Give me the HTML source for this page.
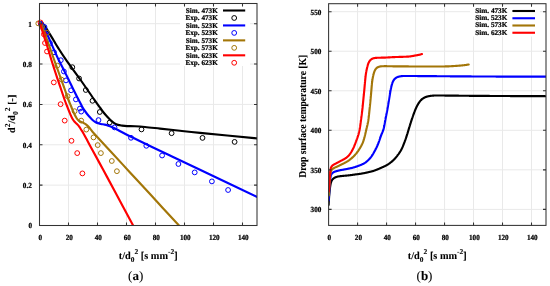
<!DOCTYPE html>
<html><head><meta charset="utf-8"><title>Figure</title>
<style>
html,body{margin:0;padding:0;background:#fff;}
body{width:550px;height:286px;overflow:hidden;}
svg{display:block;filter:blur(0.3px);}
text{text-rendering:geometricPrecision;font-family:"Liberation Serif","Times New Roman",serif;font-weight:bold;fill:#000;}
text.s{stroke:#000;stroke-width:0.22px;}
text.m{stroke:#000;stroke-width:0.08px;}
.g line{stroke:#e9e9e9;stroke-width:1;}
.c circle{fill:none;stroke-width:1;}
</style></head><body>
<svg width="550" height="286" viewBox="0 0 550 286">
<rect width="550" height="286" fill="#fff"/>
<defs>
<clipPath id="cl"><rect x="39.50" y="3.50" width="217.50" height="222.00"/></clipPath>
<clipPath id="cr"><rect x="328.60" y="3.70" width="217.40" height="221.70"/></clipPath>
</defs>
<g class="g"><line x1="68.50" y1="3.50" x2="68.50" y2="225.50"/>
<line x1="97.50" y1="3.50" x2="97.50" y2="225.50"/>
<line x1="126.50" y1="3.50" x2="126.50" y2="225.50"/>
<line x1="155.50" y1="3.50" x2="155.50" y2="225.50"/>
<line x1="184.50" y1="3.50" x2="184.50" y2="225.50"/>
<line x1="213.50" y1="3.50" x2="213.50" y2="225.50"/>
<line x1="242.50" y1="3.50" x2="242.50" y2="225.50"/>
<line x1="39.50" y1="185.14" x2="257.00" y2="185.14"/>
<line x1="39.50" y1="144.77" x2="257.00" y2="144.77"/>
<line x1="39.50" y1="104.41" x2="257.00" y2="104.41"/>
<line x1="39.50" y1="64.05" x2="257.00" y2="64.05"/>
<line x1="39.50" y1="23.68" x2="257.00" y2="23.68"/></g>
<g class="g"><line x1="357.59" y1="3.70" x2="357.59" y2="225.40"/>
<line x1="386.57" y1="3.70" x2="386.57" y2="225.40"/>
<line x1="415.56" y1="3.70" x2="415.56" y2="225.40"/>
<line x1="444.55" y1="3.70" x2="444.55" y2="225.40"/>
<line x1="473.53" y1="3.70" x2="473.53" y2="225.40"/>
<line x1="502.52" y1="3.70" x2="502.52" y2="225.40"/>
<line x1="531.51" y1="3.70" x2="531.51" y2="225.40"/>
<line x1="328.60" y1="209.39" x2="546.00" y2="209.39"/>
<line x1="328.60" y1="169.85" x2="546.00" y2="169.85"/>
<line x1="328.60" y1="130.31" x2="546.00" y2="130.31"/>
<line x1="328.60" y1="90.78" x2="546.00" y2="90.78"/>
<line x1="328.60" y1="51.24" x2="546.00" y2="51.24"/>
<line x1="328.60" y1="11.71" x2="546.00" y2="11.71"/></g>
<path clip-path="url(#cl)" fill="none" stroke-width="2.15" stroke-linejoin="round" stroke-linecap="round" d="M39.50,23.70 C39.83,23.67 40.92,23.47 41.50,23.50 C42.08,23.53 42.50,23.55 43.00,23.90 C43.50,24.25 43.98,24.92 44.50,25.60 C45.02,26.28 45.18,26.53 46.10,28.00 C47.02,29.47 48.68,32.23 50.00,34.40 C51.32,36.57 52.67,38.80 54.00,41.00 C55.33,43.20 56.02,44.50 58.00,47.60 C59.98,50.70 62.13,54.20 65.90,59.60 C69.67,65.00 75.82,73.25 80.60,80.00 C85.38,86.75 91.32,95.43 94.60,100.10 C97.88,104.77 98.73,105.85 100.30,108.00 C101.87,110.15 102.80,111.50 104.00,113.00 C105.20,114.50 106.33,115.73 107.50,117.00 C108.67,118.27 109.83,119.55 111.00,120.60 C112.17,121.65 113.33,122.58 114.50,123.30 C115.67,124.02 116.75,124.52 118.00,124.90 C119.25,125.28 120.50,125.40 122.00,125.60 C123.50,125.80 124.83,125.98 127.00,126.10 C129.17,126.22 132.00,126.15 135.00,126.30 C138.00,126.45 140.83,126.62 145.00,127.00 C149.17,127.38 154.17,127.97 160.00,128.60 C165.83,129.23 173.33,130.08 180.00,130.80 C186.67,131.52 187.20,131.63 200.00,132.90 C212.80,134.17 247.33,137.48 256.80,138.40" stroke="#000000"/>
<g class="c"><circle cx="41.20" cy="24.20" r="2.40" stroke="#000000"/>
<circle cx="72.30" cy="67.20" r="2.40" stroke="#000000"/>
<circle cx="79.10" cy="78.50" r="2.40" stroke="#000000"/>
<circle cx="85.80" cy="90.00" r="2.40" stroke="#000000"/>
<circle cx="92.50" cy="100.80" r="2.40" stroke="#000000"/>
<circle cx="99.80" cy="112.00" r="2.40" stroke="#000000"/>
<circle cx="109.70" cy="122.50" r="2.40" stroke="#000000"/>
<circle cx="141.50" cy="129.40" r="2.40" stroke="#000000"/>
<circle cx="171.60" cy="133.20" r="2.40" stroke="#000000"/>
<circle cx="202.50" cy="137.90" r="2.40" stroke="#000000"/>
<circle cx="234.60" cy="141.90" r="2.40" stroke="#000000"/></g>
<path clip-path="url(#cl)" fill="none" stroke-width="2.15" stroke-linejoin="round" stroke-linecap="round" d="M39.50,23.70 C39.80,23.65 40.75,23.30 41.30,23.40 C41.85,23.50 42.18,23.33 42.80,24.30 C43.42,25.27 44.05,27.05 45.00,29.20 C45.95,31.35 47.15,34.13 48.50,37.20 C49.85,40.27 51.40,43.80 53.10,47.60 C54.80,51.40 56.92,56.27 58.70,60.00 C60.48,63.73 62.12,66.67 63.80,70.00 C65.48,73.33 67.18,76.70 68.80,80.00 C70.42,83.30 71.88,86.55 73.50,89.80 C75.12,93.05 77.00,96.60 78.50,99.50 C80.00,102.40 81.25,105.03 82.50,107.20 C83.75,109.37 84.92,111.00 86.00,112.50 C87.08,114.00 88.00,115.03 89.00,116.20 C90.00,117.37 91.00,118.57 92.00,119.50 C93.00,120.43 94.00,121.17 95.00,121.80 C96.00,122.43 97.00,122.93 98.00,123.30 C99.00,123.67 100.00,123.80 101.00,124.00 C102.00,124.20 103.00,124.32 104.00,124.50 C105.00,124.68 106.00,124.82 107.00,125.10 C108.00,125.38 108.83,125.72 110.00,126.20 C111.17,126.68 112.67,127.37 114.00,128.00 C115.33,128.63 115.17,128.53 118.00,130.00 C120.83,131.47 125.33,133.97 131.00,136.80 C136.67,139.63 145.50,143.88 152.00,147.00 C158.50,150.12 162.00,151.70 170.00,155.50 C178.00,159.30 185.53,162.92 200.00,169.80 C214.47,176.68 247.33,192.30 256.80,196.80" stroke="#0000ff"/>
<g class="c"><circle cx="41.00" cy="24.00" r="2.40" stroke="#0000ff"/>
<circle cx="44.50" cy="27.00" r="2.40" stroke="#0000ff"/>
<circle cx="46.50" cy="32.60" r="2.40" stroke="#0000ff"/>
<circle cx="49.90" cy="43.00" r="2.40" stroke="#0000ff"/>
<circle cx="54.00" cy="52.30" r="2.40" stroke="#0000ff"/>
<circle cx="60.80" cy="60.20" r="2.40" stroke="#0000ff"/>
<circle cx="63.90" cy="71.50" r="2.40" stroke="#0000ff"/>
<circle cx="66.00" cy="80.40" r="2.40" stroke="#0000ff"/>
<circle cx="71.10" cy="90.30" r="2.40" stroke="#0000ff"/>
<circle cx="75.90" cy="99.40" r="2.40" stroke="#0000ff"/>
<circle cx="79.90" cy="108.60" r="2.40" stroke="#0000ff"/>
<circle cx="81.20" cy="111.60" r="2.40" stroke="#0000ff"/>
<circle cx="98.50" cy="120.10" r="2.40" stroke="#0000ff"/>
<circle cx="114.50" cy="127.40" r="2.40" stroke="#0000ff"/>
<circle cx="131.00" cy="137.80" r="2.40" stroke="#0000ff"/>
<circle cx="146.30" cy="145.80" r="2.40" stroke="#0000ff"/>
<circle cx="162.10" cy="155.50" r="2.40" stroke="#0000ff"/>
<circle cx="178.40" cy="164.00" r="2.40" stroke="#0000ff"/>
<circle cx="194.70" cy="172.40" r="2.40" stroke="#0000ff"/>
<circle cx="211.90" cy="181.40" r="2.40" stroke="#0000ff"/>
<circle cx="228.10" cy="190.00" r="2.40" stroke="#0000ff"/></g>
<path clip-path="url(#cl)" fill="none" stroke-width="2.15" stroke-linejoin="round" stroke-linecap="round" d="M39.50,23.70 C39.75,23.85 40.48,23.92 41.00,24.60 C41.52,25.28 42.07,26.60 42.60,27.80 C43.13,29.00 43.68,30.43 44.20,31.80 C44.72,33.17 45.22,34.63 45.70,36.00 C46.18,37.37 46.27,37.67 47.10,40.00 C47.93,42.33 49.52,46.67 50.70,50.00 C51.88,53.33 53.02,56.67 54.20,60.00 C55.38,63.33 56.60,66.67 57.80,70.00 C59.00,73.33 60.20,76.67 61.40,80.00 C62.60,83.33 63.82,86.67 65.00,90.00 C66.18,93.33 67.50,97.33 68.50,100.00 C69.50,102.67 70.17,103.95 71.00,106.00 C71.83,108.05 72.58,110.30 73.50,112.30 C74.42,114.30 75.58,116.58 76.50,118.00 C77.42,119.42 78.17,120.13 79.00,120.80 C79.83,121.47 80.67,121.60 81.50,122.00 C82.33,122.40 83.17,122.73 84.00,123.20 C84.83,123.67 85.67,124.12 86.50,124.80 C87.33,125.48 88.17,126.37 89.00,127.30 C89.83,128.23 90.58,129.28 91.50,130.40 C92.42,131.52 91.42,130.60 94.50,134.00 C97.58,137.40 104.08,144.40 110.00,150.80 C115.92,157.20 123.33,165.18 130.00,172.40 C136.67,179.62 141.83,185.25 150.00,194.10 C158.17,202.95 174.17,220.27 179.00,225.50" stroke="#a37608"/>
<g class="c"><circle cx="38.30" cy="23.40" r="2.40" stroke="#a37608"/>
<circle cx="42.00" cy="27.00" r="2.40" stroke="#a37608"/>
<circle cx="47.00" cy="32.60" r="2.40" stroke="#a37608"/>
<circle cx="57.30" cy="65.60" r="2.40" stroke="#a37608"/>
<circle cx="61.50" cy="79.60" r="2.40" stroke="#a37608"/>
<circle cx="67.60" cy="96.20" r="2.40" stroke="#a37608"/>
<circle cx="74.60" cy="111.20" r="2.40" stroke="#a37608"/>
<circle cx="81.20" cy="120.60" r="2.40" stroke="#a37608"/>
<circle cx="86.30" cy="129.60" r="2.40" stroke="#a37608"/>
<circle cx="93.50" cy="137.40" r="2.40" stroke="#a37608"/>
<circle cx="97.70" cy="145.10" r="2.40" stroke="#a37608"/>
<circle cx="100.90" cy="153.10" r="2.40" stroke="#a37608"/>
<circle cx="111.80" cy="161.00" r="2.40" stroke="#a37608"/>
<circle cx="116.90" cy="171.20" r="2.40" stroke="#a37608"/></g>
<path clip-path="url(#cl)" fill="none" stroke-width="2.15" stroke-linejoin="round" stroke-linecap="round" d="M39.50,23.70 C39.67,24.00 40.05,24.37 40.50,25.50 C40.95,26.63 41.42,28.08 42.20,30.50 C42.98,32.92 44.17,36.75 45.20,40.00 C46.23,43.25 47.37,46.67 48.40,50.00 C49.43,53.33 50.37,56.67 51.40,60.00 C52.43,63.33 53.52,66.67 54.60,70.00 C55.68,73.33 56.78,76.67 57.90,80.00 C59.02,83.33 60.17,86.67 61.30,90.00 C62.43,93.33 63.75,97.33 64.70,100.00 C65.65,102.67 66.25,104.08 67.00,106.00 C67.75,107.92 68.53,109.87 69.20,111.50 C69.87,113.13 70.43,114.55 71.00,115.80 C71.57,117.05 72.00,118.00 72.60,119.00 C73.20,120.00 73.92,121.00 74.60,121.80 C75.28,122.60 75.97,123.05 76.70,123.80 C77.43,124.55 78.28,125.35 79.00,126.30 C79.72,127.25 80.25,128.30 81.00,129.50 C81.75,130.70 82.65,132.05 83.50,133.50 C84.35,134.95 84.62,135.45 86.10,138.20 C87.58,140.95 89.48,144.62 92.40,150.00 C95.32,155.38 99.92,163.70 103.60,170.50 C107.28,177.30 109.60,181.67 114.50,190.80 C119.40,199.93 129.92,219.55 133.00,225.30" stroke="#ff0000"/>
<g class="c"><circle cx="40.50" cy="22.50" r="2.40" stroke="#ff0000"/>
<circle cx="43.90" cy="34.30" r="2.40" stroke="#ff0000"/>
<circle cx="45.00" cy="43.00" r="2.40" stroke="#ff0000"/>
<circle cx="47.00" cy="51.50" r="2.40" stroke="#ff0000"/>
<circle cx="53.80" cy="82.40" r="2.40" stroke="#ff0000"/>
<circle cx="60.60" cy="104.20" r="2.40" stroke="#ff0000"/>
<circle cx="64.70" cy="120.60" r="2.40" stroke="#ff0000"/>
<circle cx="71.50" cy="140.80" r="2.40" stroke="#ff0000"/>
<circle cx="77.20" cy="153.10" r="2.40" stroke="#ff0000"/>
<circle cx="82.40" cy="173.40" r="2.40" stroke="#ff0000"/></g>
<g clip-path="url(#cr)" fill="none" stroke-width="2.15" stroke-linejoin="round" stroke-linecap="round">
<path d="M328.60,205.00L328.62,204.65L328.63,204.30L328.65,203.95L328.67,203.60L328.69,203.25L328.71,202.90L328.72,202.55L328.74,202.20L328.76,201.85L328.78,201.50L328.80,201.15L328.83,200.80L328.85,200.45L328.87,200.10L328.89,199.75L328.91,199.40L328.94,199.05L328.96,198.70L328.99,198.36L329.01,198.01L329.04,197.66L329.06,197.31L329.09,196.96L329.11,196.61L329.14,196.26L329.17,195.91L329.20,195.56L329.22,195.21L329.25,194.86L329.28,194.51L329.31,194.16L329.34,193.82L329.37,193.47L329.41,193.12L329.44,192.77L329.47,192.42L329.51,192.07L329.54,191.72L329.58,191.37L329.61,191.03L329.65,190.68L329.69,190.33L329.73,189.98L329.76,189.63L329.81,189.29L329.85,188.94L329.89,188.59L329.93,188.24L329.98,187.89L330.02,187.55L330.07,187.20L330.12,186.85L330.17,186.51L330.22,186.16L330.27,185.82L330.33,185.47L330.39,185.12L330.45,184.78L330.51,184.44L330.58,184.09L330.65,183.75L330.73,183.41L330.81,183.08L330.90,182.74L331.00,182.41L331.11,182.08L331.23,181.76L331.35,181.44L331.49,181.13L331.64,180.82L331.80,180.52L331.97,180.22L332.15,179.94L332.35,179.67L332.56,179.40L332.78,179.15L333.01,178.90L333.26,178.67L333.51,178.45L333.78,178.24L334.06,178.05L334.34,177.87L334.64,177.70L334.94,177.54L335.25,177.39L335.56,177.26L335.88,177.13L336.20,177.02L336.53,176.91L336.87,176.81L337.20,176.72L337.54,176.64L337.88,176.57L338.22,176.50L338.56,176.44L338.91,176.38L339.25,176.33L339.60,176.28L339.94,176.23L340.29,176.19L340.64,176.15L340.99,176.11L341.34,176.07L341.68,176.03L342.03,176.00L342.38,175.96L342.73,175.93L343.08,175.90L343.43,175.86L343.78,175.83L344.12,175.80L344.47,175.77L344.82,175.73L345.17,175.70L345.52,175.67L345.87,175.64L346.22,175.61L346.57,175.57L346.92,175.54L347.26,175.51L347.61,175.47L347.96,175.44L348.31,175.40L348.66,175.37L349.01,175.33L349.35,175.29L349.70,175.25L350.05,175.20L350.40,175.16L350.74,175.12L351.09,175.07L351.44,175.02L351.78,174.97L352.13,174.93L352.48,174.88L352.83,174.83L353.17,174.78L353.52,174.73L353.87,174.68L354.21,174.63L354.56,174.58L354.91,174.53L355.25,174.48L355.60,174.43L355.95,174.39L356.29,174.34L356.64,174.29L356.99,174.25L357.34,174.20L357.68,174.16L358.03,174.11L358.38,174.06L358.72,174.02L359.07,173.97L359.42,173.92L359.77,173.87L360.11,173.82L360.46,173.77L360.80,173.71L361.15,173.66L361.50,173.60L361.84,173.55L362.19,173.49L362.53,173.43L362.88,173.36L363.22,173.30L363.56,173.23L363.91,173.17L364.25,173.10L364.60,173.03L364.94,172.96L365.28,172.89L365.62,172.82L365.97,172.74L366.31,172.67L366.65,172.60L366.99,172.52L367.34,172.45L367.68,172.37L368.02,172.29L368.36,172.22L368.70,172.14L369.04,172.06L369.39,171.98L369.73,171.90L370.07,171.82L370.41,171.74L370.75,171.66L371.09,171.57L371.43,171.49L371.77,171.40L372.10,171.31L372.44,171.21L372.78,171.11L373.11,171.01L373.45,170.91L373.78,170.80L374.11,170.69L374.44,170.58L374.77,170.46L375.10,170.34L375.43,170.22L375.75,170.10L376.08,169.97L376.41,169.84L376.73,169.71L377.05,169.57L377.38,169.44L377.70,169.30L378.02,169.16L378.34,169.02L378.66,168.89L378.99,168.75L379.31,168.61L379.63,168.47L379.95,168.33L380.27,168.19L380.59,168.05L380.92,167.91L381.24,167.77L381.56,167.63L381.88,167.49L382.20,167.35L382.52,167.21L382.84,167.07L383.16,166.93L383.48,166.78L383.80,166.63L384.11,166.48L384.43,166.33L384.74,166.18L385.06,166.03L385.37,165.87L385.68,165.71L385.99,165.54L386.30,165.38L386.60,165.21L386.91,165.04L387.21,164.86L387.51,164.68L387.81,164.50L388.10,164.31L388.40,164.12L388.69,163.93L388.98,163.73L389.26,163.53L389.55,163.33L389.83,163.12L390.11,162.92L390.39,162.70L390.67,162.49L390.94,162.27L391.21,162.05L391.48,161.83L391.75,161.60L392.01,161.38L392.28,161.14L392.54,160.91L392.80,160.68L393.05,160.44L393.31,160.20L393.56,159.96L393.81,159.71L394.05,159.46L394.30,159.21L394.54,158.96L394.78,158.70L395.02,158.44L395.25,158.18L395.48,157.92L395.71,157.66L395.94,157.39L396.16,157.12L396.39,156.85L396.61,156.58L396.83,156.31L397.04,156.04L397.26,155.76L397.47,155.48L397.68,155.20L397.89,154.92L398.10,154.64L398.31,154.36L398.51,154.07L398.72,153.79L398.92,153.50L399.12,153.21L399.31,152.93L399.51,152.64L399.70,152.34L399.89,152.05L400.08,151.75L400.26,151.46L400.45,151.16L400.63,150.86L400.80,150.56L400.98,150.25L401.14,149.95L401.31,149.64L401.47,149.33L401.63,149.02L401.79,148.71L401.94,148.39L402.09,148.07L402.23,147.76L402.38,147.44L402.52,147.12L402.65,146.79L402.79,146.47L402.93,146.15L403.06,145.83L403.19,145.50L403.32,145.18L403.45,144.85L403.58,144.53L403.71,144.20L403.84,143.87L403.96,143.55L404.09,143.22L404.22,142.89L404.34,142.57L404.46,142.24L404.59,141.91L404.71,141.58L404.83,141.25L404.95,140.92L405.07,140.60L405.19,140.27L405.31,139.94L405.43,139.61L405.55,139.28L405.66,138.95L405.78,138.62L405.89,138.28L406.01,137.95L406.12,137.62L406.23,137.29L406.34,136.96L406.45,136.63L406.56,136.29L406.67,135.96L406.78,135.63L406.89,135.29L407.00,134.96L407.10,134.63L407.21,134.29L407.31,133.96L407.41,133.62L407.52,133.29L407.62,132.95L407.72,132.62L407.82,132.28L407.92,131.95L408.02,131.61L408.12,131.28L408.22,130.94L408.32,130.60L408.42,130.27L408.52,129.93L408.62,129.60L408.72,129.26L408.82,128.93L408.92,128.59L409.02,128.25L409.12,127.92L409.22,127.58L409.32,127.25L409.42,126.91L409.53,126.58L409.63,126.24L409.73,125.91L409.83,125.57L409.94,125.24L410.04,124.90L410.14,124.57L410.25,124.23L410.35,123.90L410.46,123.56L410.56,123.23L410.67,122.90L410.77,122.56L410.88,122.23L410.99,121.90L411.10,121.56L411.20,121.23L411.31,120.90L411.42,120.56L411.53,120.23L411.64,119.90L411.75,119.56L411.86,119.23L411.97,118.90L412.08,118.57L412.19,118.23L412.30,117.90L412.42,117.57L412.53,117.24L412.64,116.91L412.76,116.58L412.87,116.25L412.99,115.92L413.10,115.58L413.22,115.25L413.34,114.92L413.46,114.60L413.58,114.27L413.70,113.94L413.82,113.61L413.94,113.28L414.06,112.95L414.19,112.62L414.31,112.30L414.44,111.97L414.56,111.64L414.69,111.32L414.82,110.99L414.95,110.67L415.08,110.34L415.21,110.02L415.35,109.69L415.48,109.37L415.62,109.05L415.76,108.73L415.90,108.40L416.04,108.08L416.18,107.77L416.33,107.45L416.48,107.13L416.63,106.82L416.78,106.50L416.94,106.19L417.10,105.88L417.26,105.57L417.43,105.26L417.60,104.95L417.77,104.65L417.94,104.35L418.12,104.05L418.30,103.75L418.49,103.45L418.68,103.16L418.87,102.86L419.06,102.57L419.26,102.28L419.46,102.00L419.67,101.72L419.88,101.44L420.09,101.17L420.31,100.90L420.54,100.63L420.77,100.38L421.01,100.12L421.25,99.88L421.50,99.64L421.76,99.41L422.02,99.18L422.29,98.97L422.56,98.76L422.85,98.56L423.13,98.36L423.42,98.18L423.72,98.00L424.02,97.83L424.33,97.67L424.64,97.51L424.95,97.36L425.27,97.23L425.59,97.09L425.92,96.97L426.24,96.85L426.57,96.75L426.91,96.64L427.24,96.55L427.58,96.46L427.92,96.38L428.26,96.30L428.60,96.23L428.94,96.16L429.28,96.10L429.63,96.04L429.97,95.98L430.31,95.93L430.66,95.88L431.00,95.83L431.35,95.79L431.69,95.75L432.04,95.71L432.38,95.68L432.73,95.64L433.07,95.62L433.42,95.59L433.77,95.57L434.11,95.55L434.46,95.54L434.81,95.53L435.16,95.52L435.50,95.51L435.85,95.51L436.20,95.50L436.55,95.50L436.90,95.50L437.25,95.50L437.60,95.50L437.95,95.50L438.30,95.50L438.65,95.50L439.00,95.51L439.35,95.51L439.70,95.51L440.06,95.51L440.41,95.51L440.76,95.52L441.11,95.52L441.46,95.52L441.81,95.52L442.16,95.53L442.51,95.53L442.86,95.53L443.21,95.54L443.56,95.54L443.91,95.54L444.26,95.54L444.61,95.55L444.96,95.55L445.31,95.55L445.66,95.56L446.01,95.56L446.36,95.56L446.71,95.57L447.06,95.57L447.41,95.57L447.76,95.58L448.11,95.58L448.46,95.59L448.81,95.59L449.16,95.59L449.51,95.60L449.86,95.60L450.21,95.60L450.56,95.61L450.91,95.61L451.26,95.61L451.62,95.62L451.97,95.62L452.32,95.63L452.67,95.63L453.02,95.63L453.37,95.64L453.72,95.64L454.07,95.64L454.42,95.65L454.77,95.65L455.12,95.66L455.47,95.66L455.82,95.66L456.17,95.67L456.52,95.67L456.87,95.67L457.22,95.68L457.57,95.68L457.92,95.69L458.27,95.69L458.62,95.69L458.97,95.70L459.32,95.70L459.67,95.70L460.02,95.71L460.37,95.71L460.72,95.71L461.07,95.72L461.42,95.72L461.77,95.73L462.12,95.73L462.47,95.73L462.82,95.74L463.18,95.74L463.53,95.74L463.88,95.75L464.23,95.75L464.58,95.75L464.93,95.76L465.28,95.76L465.63,95.76L465.98,95.77L466.33,95.77L466.68,95.77L467.03,95.78L467.38,95.78L467.73,95.78L468.08,95.79L468.43,95.79L468.78,95.79L469.13,95.80L469.48,95.80L469.83,95.80L470.18,95.81L470.53,95.81L470.88,95.81L471.23,95.82L471.58,95.82L471.93,95.82L472.28,95.83L472.63,95.83L472.98,95.83L473.33,95.84L473.68,95.84L474.03,95.84L474.38,95.84L474.74,95.85L475.09,95.85L475.44,95.85L475.79,95.86L476.14,95.86L476.49,95.86L476.84,95.86L477.19,95.87L477.54,95.87L477.89,95.87L478.24,95.87L478.59,95.88L478.94,95.88L479.29,95.88L479.64,95.88L479.99,95.89L480.34,95.89L480.69,95.89L481.04,95.89L481.39,95.90L481.74,95.90L482.09,95.90L482.44,95.90L482.79,95.91L483.14,95.91L483.49,95.91L483.84,95.91L484.19,95.91L484.54,95.92L484.89,95.92L485.24,95.92L485.59,95.92L485.95,95.93L486.30,95.93L486.65,95.93L487.00,95.93L487.35,95.93L487.70,95.94L488.05,95.94L488.40,95.94L488.75,95.94L489.10,95.94L489.45,95.94L489.80,95.95L490.15,95.95L490.50,95.95L490.85,95.95L491.20,95.95L491.55,95.96L491.90,95.96L492.25,95.96L492.60,95.96L492.95,95.96L493.30,95.97L493.65,95.97L494.00,95.97L494.35,95.97L494.70,95.97L495.05,95.97L495.40,95.98L495.75,95.98L496.10,95.98L496.45,95.98L496.81,95.98L497.16,95.98L497.51,95.99L497.86,95.99L498.21,95.99L498.56,95.99L498.91,95.99L499.26,96.00L499.61,96.00L499.96,96.00L500.31,96.00L500.66,96.00L501.01,96.00L501.36,96.01L501.71,96.01L502.06,96.01L502.41,96.01L502.76,96.01L503.11,96.01L503.46,96.02L503.81,96.02L504.16,96.02L504.51,96.02L504.86,96.02L505.21,96.02L505.56,96.03L505.91,96.03L506.26,96.03L506.61,96.03L506.96,96.03L507.31,96.03L507.66,96.03L508.02,96.04L508.37,96.04L508.72,96.04L509.07,96.04L509.42,96.04L509.77,96.04L510.12,96.05L510.47,96.05L510.82,96.05L511.17,96.05L511.52,96.05L511.87,96.05L512.22,96.06L512.57,96.06L512.92,96.06L513.27,96.06L513.62,96.06L513.97,96.06L514.32,96.06L514.67,96.07L515.02,96.07L515.37,96.07L515.72,96.07L516.07,96.07L516.42,96.07L516.77,96.08L517.12,96.08L517.47,96.08L517.82,96.08L518.17,96.08L518.52,96.08L518.88,96.08L519.23,96.09L519.58,96.09L519.93,96.09L520.28,96.09L520.63,96.09L520.98,96.09L521.33,96.09L521.68,96.10L522.03,96.10L522.38,96.10L522.73,96.10L523.08,96.10L523.43,96.10L523.78,96.11L524.13,96.11L524.48,96.11L524.83,96.11L525.18,96.11L525.53,96.11L525.88,96.11L526.23,96.12L526.58,96.12L526.93,96.12L527.28,96.12L527.63,96.12L527.98,96.12L528.33,96.12L528.68,96.13L529.03,96.13L529.38,96.13L529.74,96.13L530.09,96.13L530.44,96.13L530.79,96.13L531.14,96.14L531.49,96.14L531.84,96.14L532.19,96.14L532.54,96.14L532.89,96.14L533.24,96.14L533.59,96.15L533.94,96.15L534.29,96.15L534.64,96.15L534.99,96.15L535.34,96.15L535.69,96.15L536.04,96.16L536.39,96.16L536.74,96.16L537.09,96.16L537.44,96.16L537.79,96.16L538.14,96.17L538.49,96.17L538.84,96.17L539.19,96.17L539.54,96.17L539.89,96.17L540.24,96.17L540.59,96.18L540.95,96.18L541.30,96.18L541.65,96.18L542.00,96.18L542.35,96.18L542.70,96.18L543.05,96.19L543.40,96.19L543.75,96.19L544.10,96.19L544.45,96.19L544.80,96.19L545.15,96.20L545.50,96.20L545.85,96.20L546.20,96.20" stroke="#000000"/>
<path d="M328.70,200.50L328.72,200.15L328.74,199.80L328.76,199.45L328.78,199.10L328.81,198.75L328.83,198.40L328.85,198.05L328.87,197.70L328.89,197.35L328.91,197.01L328.93,196.66L328.96,196.31L328.98,195.96L329.00,195.61L329.02,195.26L329.04,194.91L329.07,194.56L329.09,194.21L329.11,193.86L329.13,193.51L329.15,193.16L329.18,192.81L329.20,192.46L329.22,192.11L329.24,191.76L329.27,191.41L329.29,191.07L329.31,190.72L329.33,190.37L329.36,190.02L329.38,189.67L329.40,189.32L329.42,188.97L329.45,188.62L329.47,188.27L329.50,187.92L329.52,187.57L329.54,187.22L329.57,186.87L329.59,186.52L329.62,186.18L329.64,185.83L329.67,185.48L329.70,185.13L329.72,184.78L329.75,184.43L329.78,184.08L329.81,183.73L329.83,183.38L329.86,183.03L329.89,182.69L329.92,182.34L329.95,181.99L329.99,181.64L330.02,181.29L330.05,180.94L330.09,180.59L330.12,180.25L330.16,179.90L330.19,179.55L330.23,179.20L330.27,178.85L330.31,178.51L330.36,178.16L330.40,177.81L330.46,177.47L330.51,177.13L330.57,176.79L330.64,176.45L330.72,176.12L330.80,175.79L330.90,175.46L331.01,175.15L331.14,174.84L331.28,174.54L331.43,174.25L331.61,173.98L331.80,173.71L332.00,173.46L332.23,173.22L332.46,173.00L332.72,172.79L332.99,172.60L333.26,172.41L333.55,172.25L333.85,172.09L334.16,171.94L334.47,171.81L334.79,171.68L335.12,171.56L335.44,171.45L335.78,171.35L336.11,171.25L336.44,171.15L336.78,171.05L337.12,170.96L337.45,170.87L337.79,170.78L338.13,170.70L338.47,170.61L338.81,170.53L339.15,170.45L339.49,170.37L339.83,170.29L340.17,170.22L340.52,170.15L340.86,170.08L341.20,170.01L341.55,169.95L341.89,169.88L342.23,169.82L342.58,169.75L342.92,169.69L343.27,169.63L343.61,169.57L343.96,169.51L344.30,169.45L344.65,169.38L344.99,169.32L345.33,169.26L345.68,169.19L346.02,169.13L346.37,169.07L346.71,169.00L347.06,168.94L347.40,168.87L347.74,168.81L348.09,168.74L348.43,168.67L348.77,168.61L349.12,168.54L349.46,168.47L349.80,168.40L350.15,168.32L350.49,168.25L350.83,168.17L351.17,168.10L351.51,168.02L351.85,167.94L352.19,167.85L352.53,167.76L352.87,167.67L353.20,167.58L353.54,167.49L353.88,167.39L354.21,167.29L354.55,167.18L354.88,167.08L355.21,166.97L355.54,166.86L355.88,166.75L356.21,166.64L356.54,166.52L356.87,166.41L357.20,166.29L357.53,166.17L357.86,166.05L358.19,165.93L358.52,165.81L358.84,165.69L359.17,165.57L359.50,165.45L359.83,165.33L360.15,165.20L360.48,165.07L360.80,164.94L361.13,164.81L361.45,164.67L361.77,164.53L362.09,164.39L362.40,164.24L362.72,164.09L363.03,163.94L363.34,163.78L363.65,163.61L363.95,163.44L364.25,163.27L364.55,163.08L364.84,162.90L365.13,162.71L365.42,162.51L365.71,162.31L365.99,162.10L366.26,161.89L366.54,161.67L366.81,161.45L367.07,161.23L367.34,161.00L367.60,160.77L367.86,160.53L368.11,160.29L368.36,160.05L368.61,159.81L368.85,159.56L369.10,159.31L369.34,159.05L369.57,158.79L369.80,158.53L370.03,158.27L370.26,158.00L370.48,157.73L370.69,157.46L370.91,157.18L371.11,156.90L371.32,156.62L371.52,156.33L371.72,156.05L371.91,155.76L372.11,155.46L372.29,155.17L372.48,154.87L372.66,154.58L372.85,154.28L373.03,153.98L373.20,153.68L373.38,153.37L373.56,153.07L373.73,152.77L373.90,152.46L374.07,152.16L374.24,151.85L374.41,151.55L374.58,151.24L374.75,150.93L374.92,150.62L375.08,150.32L375.25,150.01L375.41,149.70L375.58,149.39L375.74,149.08L375.90,148.77L376.06,148.46L376.22,148.14L376.37,147.83L376.53,147.52L376.68,147.20L376.83,146.88L376.97,146.57L377.12,146.25L377.26,145.93L377.40,145.61L377.54,145.29L377.67,144.96L377.80,144.64L377.93,144.31L378.06,143.99L378.18,143.66L378.31,143.33L378.43,143.01L378.55,142.68L378.67,142.35L378.79,142.02L378.91,141.69L379.02,141.36L379.14,141.03L379.25,140.70L379.37,140.37L379.48,140.04L379.60,139.71L379.71,139.38L379.83,139.05L379.94,138.72L380.06,138.38L380.17,138.05L380.29,137.72L380.40,137.39L380.52,137.06L380.64,136.73L380.75,136.40L380.87,136.07L380.99,135.75L381.11,135.42L381.24,135.09L381.37,134.76L381.49,134.44L381.62,134.12L381.76,133.79L381.89,133.47L382.03,133.15L382.16,132.83L382.30,132.50L382.44,132.18L382.57,131.86L382.70,131.54L382.83,131.21L382.95,130.89L383.07,130.56L383.19,130.23L383.30,129.90L383.40,129.57L383.50,129.23L383.59,128.90L383.68,128.56L383.77,128.22L383.84,127.88L383.92,127.54L383.99,127.20L384.06,126.86L384.13,126.51L384.20,126.17L384.27,125.83L384.33,125.48L384.39,125.14L384.46,124.80L384.52,124.45L384.58,124.11L384.65,123.76L384.71,123.42L384.77,123.07L384.83,122.73L384.90,122.38L384.96,122.04L385.02,121.70L385.09,121.35L385.15,121.01L385.21,120.66L385.27,120.32L385.34,119.97L385.40,119.63L385.47,119.29L385.53,118.94L385.60,118.60L385.66,118.25L385.73,117.91L385.80,117.57L385.86,117.22L385.93,116.88L386.00,116.54L386.07,116.19L386.14,115.85L386.21,115.51L386.27,115.16L386.34,114.82L386.41,114.48L386.48,114.13L386.55,113.79L386.62,113.45L386.69,113.10L386.76,112.76L386.83,112.42L386.89,112.07L386.96,111.73L387.03,111.39L387.09,111.04L387.16,110.70L387.22,110.35L387.28,110.01L387.35,109.67L387.41,109.32L387.47,108.98L387.53,108.63L387.59,108.29L387.65,107.94L387.71,107.60L387.77,107.25L387.83,106.91L387.89,106.56L387.95,106.22L388.00,105.87L388.06,105.53L388.12,105.18L388.17,104.83L388.23,104.49L388.29,104.14L388.34,103.80L388.40,103.45L388.46,103.11L388.51,102.76L388.57,102.42L388.63,102.07L388.68,101.72L388.74,101.38L388.80,101.03L388.85,100.69L388.91,100.34L388.97,100.00L389.03,99.65L389.08,99.31L389.14,98.96L389.20,98.62L389.26,98.27L389.31,97.93L389.37,97.58L389.43,97.23L389.48,96.89L389.54,96.54L389.60,96.20L389.65,95.85L389.71,95.51L389.77,95.16L389.82,94.82L389.88,94.47L389.93,94.12L389.99,93.78L390.04,93.43L390.10,93.09L390.15,92.74L390.21,92.40L390.27,92.05L390.32,91.71L390.38,91.36L390.44,91.02L390.50,90.67L390.57,90.33L390.63,89.98L390.70,89.64L390.76,89.30L390.83,88.95L390.90,88.61L390.98,88.27L391.05,87.92L391.13,87.58L391.20,87.24L391.28,86.90L391.36,86.56L391.44,86.22L391.53,85.88L391.62,85.54L391.71,85.20L391.80,84.87L391.89,84.53L391.99,84.19L392.09,83.86L392.20,83.53L392.30,83.20L392.42,82.87L392.54,82.54L392.66,82.22L392.80,81.90L392.94,81.58L393.08,81.27L393.24,80.96L393.40,80.66L393.58,80.37L393.77,80.08L393.96,79.80L394.17,79.53L394.39,79.27L394.62,79.02L394.86,78.78L395.11,78.55L395.37,78.34L395.64,78.13L395.92,77.93L396.20,77.75L396.50,77.57L396.80,77.41L397.10,77.26L397.42,77.12L397.73,76.99L398.05,76.88L398.37,76.77L398.70,76.67L399.02,76.58L399.34,76.51L399.65,76.44L399.97,76.37L400.27,76.32L400.56,76.27L400.85,76.23L401.12,76.19L401.39,76.16L401.64,76.13L401.89,76.11L402.13,76.09L402.37,76.07L402.61,76.05L402.86,76.04L403.11,76.03L403.37,76.02L403.64,76.01L403.93,76.00L404.22,76.00L404.53,75.99L404.84,75.99L405.17,75.99L405.50,75.99L405.83,75.99L406.18,75.99L406.52,75.99L406.87,75.99L407.21,75.99L407.56,75.99L407.91,75.99L408.26,75.99L408.61,75.99L408.96,76.00L409.31,76.00L409.66,76.00L410.01,76.00L410.36,76.00L410.71,76.00L411.06,76.01L411.41,76.01L411.76,76.01L412.11,76.01L412.46,76.01L412.81,76.02L413.16,76.02L413.51,76.02L413.86,76.02L414.21,76.03L414.56,76.03L414.91,76.03L415.26,76.03L415.61,76.03L415.96,76.04L416.31,76.04L416.66,76.04L417.01,76.04L417.36,76.05L417.71,76.05L418.06,76.05L418.41,76.05L418.76,76.06L419.11,76.06L419.46,76.06L419.81,76.06L420.16,76.07L420.51,76.07L420.86,76.07L421.21,76.07L421.56,76.08L421.91,76.08L422.26,76.08L422.61,76.08L422.96,76.09L423.31,76.09L423.66,76.09L424.01,76.10L424.36,76.10L424.71,76.10L425.07,76.10L425.42,76.11L425.77,76.11L426.12,76.11L426.47,76.11L426.82,76.12L427.17,76.12L427.52,76.12L427.87,76.12L428.22,76.13L428.57,76.13L428.92,76.13L429.27,76.14L429.62,76.14L429.97,76.14L430.32,76.14L430.67,76.15L431.02,76.15L431.37,76.15L431.72,76.15L432.07,76.16L432.42,76.16L432.77,76.16L433.12,76.17L433.47,76.17L433.82,76.17L434.17,76.17L434.52,76.18L434.87,76.18L435.22,76.18L435.57,76.18L435.92,76.19L436.27,76.19L436.62,76.19L436.97,76.20L437.32,76.20L437.67,76.20L438.02,76.20L438.37,76.21L438.72,76.21L439.07,76.21L439.42,76.21L439.77,76.22L440.12,76.22L440.47,76.22L440.82,76.23L441.17,76.23L441.52,76.23L441.87,76.23L442.22,76.24L442.57,76.24L442.92,76.24L443.27,76.24L443.62,76.25L443.97,76.25L444.32,76.25L444.67,76.26L445.02,76.26L445.37,76.26L445.72,76.26L446.07,76.27L446.42,76.27L446.77,76.27L447.12,76.27L447.47,76.28L447.82,76.28L448.17,76.28L448.52,76.28L448.87,76.29L449.22,76.29L449.57,76.29L449.92,76.30L450.27,76.30L450.62,76.30L450.97,76.30L451.32,76.31L451.67,76.31L452.02,76.31L452.37,76.31L452.72,76.32L453.07,76.32L453.42,76.32L453.77,76.32L454.12,76.33L454.47,76.33L454.82,76.33L455.17,76.33L455.52,76.34L455.87,76.34L456.22,76.34L456.57,76.34L456.92,76.35L457.27,76.35L457.62,76.35L457.97,76.35L458.32,76.36L458.67,76.36L459.02,76.36L459.37,76.36L459.72,76.37L460.07,76.37L460.42,76.37L460.77,76.37L461.12,76.38L461.47,76.38L461.83,76.38L462.18,76.38L462.53,76.39L462.88,76.39L463.23,76.39L463.58,76.39L463.93,76.40L464.28,76.40L464.63,76.40L464.98,76.40L465.33,76.41L465.68,76.41L466.03,76.41L466.38,76.41L466.73,76.41L467.08,76.42L467.43,76.42L467.78,76.42L468.13,76.42L468.48,76.43L468.83,76.43L469.18,76.43L469.53,76.43L469.88,76.43L470.23,76.44L470.58,76.44L470.93,76.44L471.28,76.44L471.63,76.45L471.98,76.45L472.33,76.45L472.68,76.45L473.03,76.45L473.38,76.46L473.73,76.46L474.08,76.46L474.43,76.46L474.78,76.46L475.13,76.47L475.48,76.47L475.83,76.47L476.18,76.47L476.53,76.47L476.88,76.48L477.23,76.48L477.58,76.48L477.93,76.48L478.28,76.48L478.63,76.48L478.98,76.49L479.33,76.49L479.68,76.49L480.03,76.49L480.38,76.49L480.73,76.49L481.08,76.50L481.43,76.50L481.78,76.50L482.13,76.50L482.48,76.50L482.83,76.50L483.18,76.51L483.53,76.51L483.88,76.51L484.23,76.51L484.58,76.51L484.93,76.51L485.28,76.51L485.63,76.51L485.98,76.52L486.33,76.52L486.68,76.52L487.03,76.52L487.38,76.52L487.73,76.52L488.08,76.52L488.43,76.52L488.78,76.53L489.13,76.53L489.48,76.53L489.83,76.53L490.18,76.53L490.53,76.53L490.88,76.53L491.23,76.53L491.58,76.53L491.93,76.54L492.28,76.54L492.63,76.54L492.98,76.54L493.33,76.54L493.68,76.54L494.03,76.54L494.38,76.54L494.73,76.54L495.08,76.54L495.43,76.54L495.78,76.55L496.13,76.55L496.49,76.55L496.84,76.55L497.19,76.55L497.54,76.55L497.89,76.55L498.24,76.55L498.59,76.55L498.94,76.55L499.29,76.55L499.64,76.55L499.99,76.56L500.34,76.56L500.69,76.56L501.04,76.56L501.39,76.56L501.74,76.56L502.09,76.56L502.44,76.56L502.79,76.56L503.14,76.56L503.49,76.56L503.84,76.56L504.19,76.56L504.54,76.56L504.89,76.56L505.24,76.56L505.59,76.57L505.94,76.57L506.29,76.57L506.64,76.57L506.99,76.57L507.34,76.57L507.69,76.57L508.04,76.57L508.39,76.57L508.74,76.57L509.09,76.57L509.44,76.57L509.79,76.57L510.14,76.57L510.49,76.57L510.84,76.57L511.19,76.57L511.54,76.57L511.89,76.57L512.24,76.57L512.59,76.58L512.94,76.58L513.29,76.58L513.64,76.58L513.99,76.58L514.34,76.58L514.69,76.58L515.04,76.58L515.39,76.58L515.74,76.58L516.09,76.58L516.44,76.58L516.79,76.58L517.14,76.58L517.49,76.58L517.84,76.58L518.19,76.58L518.54,76.58L518.89,76.58L519.24,76.58L519.59,76.58L519.94,76.58L520.29,76.58L520.64,76.58L520.99,76.58L521.34,76.58L521.69,76.58L522.04,76.58L522.39,76.58L522.74,76.58L523.09,76.58L523.44,76.58L523.79,76.59L524.14,76.59L524.49,76.59L524.84,76.59L525.19,76.59L525.54,76.59L525.89,76.59L526.24,76.59L526.59,76.59L526.94,76.59L527.29,76.59L527.64,76.59L527.99,76.59L528.34,76.59L528.69,76.59L529.04,76.59L529.39,76.59L529.75,76.59L530.10,76.59L530.45,76.59L530.80,76.59L531.15,76.59L531.50,76.59L531.85,76.59L532.20,76.59L532.55,76.59L532.90,76.59L533.25,76.59L533.60,76.59L533.95,76.59L534.30,76.59L534.65,76.59L535.00,76.59L535.35,76.59L535.70,76.59L536.05,76.59L536.40,76.59L536.75,76.59L537.10,76.59L537.45,76.59L537.80,76.59L538.15,76.59L538.50,76.59L538.85,76.59L539.20,76.59L539.55,76.59L539.90,76.59L540.25,76.59L540.60,76.59L540.95,76.59L541.30,76.60L541.65,76.60L542.00,76.60L542.35,76.60L542.70,76.60L543.05,76.60L543.40,76.60L543.75,76.60L544.10,76.60L544.45,76.60L544.80,76.60L545.15,76.60L545.50,76.60L545.85,76.60L546.20,76.60" stroke="#0000ff"/>
<path d="M328.80,195.50L328.82,195.15L328.84,194.80L328.86,194.45L328.88,194.10L328.91,193.75L328.93,193.40L328.95,193.05L328.97,192.70L328.99,192.35L329.01,192.00L329.03,191.65L329.06,191.30L329.08,190.95L329.10,190.60L329.12,190.25L329.14,189.90L329.17,189.55L329.19,189.20L329.21,188.85L329.23,188.50L329.25,188.15L329.28,187.80L329.30,187.46L329.32,187.11L329.34,186.76L329.36,186.41L329.39,186.06L329.41,185.71L329.43,185.36L329.45,185.01L329.48,184.66L329.50,184.31L329.52,183.96L329.55,183.61L329.57,183.26L329.59,182.91L329.62,182.56L329.64,182.21L329.67,181.86L329.69,181.51L329.72,181.16L329.74,180.81L329.77,180.46L329.80,180.11L329.82,179.76L329.85,179.41L329.88,179.06L329.90,178.71L329.93,178.37L329.96,178.02L329.99,177.67L330.02,177.32L330.05,176.97L330.08,176.62L330.11,176.27L330.14,175.92L330.17,175.57L330.21,175.22L330.25,174.88L330.28,174.53L330.33,174.18L330.37,173.84L330.42,173.49L330.48,173.15L330.54,172.81L330.60,172.47L330.68,172.14L330.76,171.81L330.86,171.48L330.97,171.17L331.09,170.86L331.23,170.56L331.39,170.28L331.56,170.01L331.75,169.74L331.96,169.50L332.19,169.26L332.43,169.04L332.68,168.83L332.95,168.64L333.23,168.45L333.52,168.28L333.82,168.11L334.12,167.95L334.43,167.80L334.74,167.65L335.06,167.50L335.38,167.36L335.69,167.22L336.01,167.08L336.33,166.93L336.65,166.79L336.97,166.65L337.29,166.51L337.61,166.36L337.92,166.21L338.24,166.06L338.55,165.91L338.86,165.76L339.18,165.60L339.49,165.45L339.80,165.29L340.11,165.14L340.42,164.98L340.74,164.83L341.05,164.67L341.37,164.52L341.68,164.37L342.00,164.22L342.31,164.07L342.63,163.92L342.94,163.77L343.26,163.62L343.57,163.46L343.89,163.31L344.20,163.15L344.51,162.99L344.82,162.82L345.13,162.66L345.44,162.49L345.74,162.32L346.05,162.15L346.35,161.97L346.65,161.80L346.95,161.62L347.25,161.43L347.55,161.25L347.84,161.06L348.13,160.87L348.42,160.67L348.71,160.48L349.00,160.28L349.28,160.07L349.57,159.87L349.85,159.66L350.12,159.44L350.40,159.23L350.67,159.01L350.94,158.79L351.21,158.56L351.48,158.33L351.74,158.10L352.00,157.87L352.26,157.64L352.52,157.40L352.77,157.16L353.02,156.92L353.27,156.67L353.52,156.42L353.77,156.18L354.01,155.93L354.26,155.67L354.50,155.42L354.74,155.17L354.98,154.91L355.21,154.65L355.45,154.39L355.68,154.13L355.91,153.86L356.14,153.60L356.36,153.33L356.58,153.06L356.80,152.79L357.02,152.51L357.23,152.24L357.44,151.96L357.65,151.67L357.85,151.39L358.05,151.10L358.25,150.82L358.45,150.52L358.64,150.23L358.83,149.94L359.01,149.64L359.20,149.34L359.38,149.05L359.56,148.75L359.74,148.45L359.92,148.14L360.10,147.84L360.28,147.54L360.45,147.24L360.62,146.93L360.80,146.63L360.97,146.32L361.14,146.02L361.31,145.71L361.47,145.40L361.63,145.09L361.79,144.78L361.95,144.47L362.10,144.15L362.25,143.84L362.40,143.52L362.54,143.20L362.67,142.88L362.81,142.55L362.94,142.23L363.06,141.90L363.18,141.57L363.30,141.24L363.41,140.91L363.52,140.58L363.63,140.25L363.73,139.91L363.83,139.58L363.93,139.24L364.03,138.91L364.12,138.57L364.22,138.23L364.31,137.89L364.40,137.56L364.49,137.22L364.58,136.88L364.67,136.54L364.76,136.20L364.84,135.86L364.93,135.52L365.01,135.18L365.09,134.84L365.18,134.50L365.26,134.16L365.34,133.82L365.42,133.47L365.49,133.13L365.57,132.79L365.65,132.45L365.73,132.11L365.81,131.77L365.88,131.42L365.96,131.08L366.04,130.74L366.12,130.40L366.20,130.06L366.28,129.72L366.36,129.38L366.44,129.04L366.52,128.69L366.60,128.35L366.68,128.01L366.76,127.67L366.85,127.33L366.93,126.99L367.01,126.65L367.09,126.31L367.17,125.97L367.25,125.63L367.33,125.28L367.41,124.94L367.48,124.60L367.56,124.26L367.63,123.92L367.71,123.57L367.78,123.23L367.85,122.89L367.92,122.55L367.99,122.20L368.05,121.86L368.12,121.51L368.18,121.17L368.24,120.82L368.29,120.48L368.35,120.13L368.40,119.78L368.45,119.44L368.50,119.09L368.54,118.74L368.59,118.40L368.63,118.05L368.67,117.70L368.71,117.35L368.76,117.01L368.80,116.66L368.84,116.31L368.87,115.96L368.91,115.61L368.95,115.26L368.99,114.92L369.02,114.57L369.06,114.22L369.10,113.87L369.13,113.52L369.17,113.17L369.21,112.82L369.24,112.48L369.28,112.13L369.32,111.78L369.35,111.43L369.39,111.08L369.42,110.73L369.46,110.38L369.50,110.04L369.53,109.69L369.57,109.34L369.60,108.99L369.64,108.64L369.68,108.29L369.71,107.94L369.75,107.60L369.78,107.25L369.82,106.90L369.85,106.55L369.89,106.20L369.92,105.85L369.96,105.50L370.00,105.15L370.03,104.81L370.06,104.46L370.10,104.11L370.13,103.76L370.17,103.41L370.20,103.06L370.24,102.71L370.27,102.36L370.30,102.02L370.34,101.67L370.37,101.32L370.40,100.97L370.44,100.62L370.47,100.27L370.50,99.92L370.54,99.57L370.57,99.22L370.60,98.88L370.63,98.53L370.67,98.18L370.70,97.83L370.73,97.48L370.76,97.13L370.79,96.78L370.82,96.43L370.85,96.08L370.88,95.73L370.92,95.39L370.95,95.04L370.98,94.69L371.01,94.34L371.04,93.99L371.07,93.64L371.10,93.29L371.13,92.94L371.16,92.59L371.19,92.24L371.22,91.89L371.25,91.55L371.28,91.20L371.31,90.85L371.34,90.50L371.37,90.15L371.40,89.80L371.43,89.45L371.46,89.10L371.49,88.75L371.52,88.40L371.55,88.05L371.58,87.70L371.60,87.35L371.63,87.01L371.66,86.66L371.69,86.31L371.72,85.96L371.76,85.61L371.79,85.26L371.82,84.91L371.85,84.56L371.89,84.21L371.92,83.86L371.96,83.52L371.99,83.17L372.03,82.82L372.07,82.47L372.11,82.12L372.16,81.78L372.20,81.43L372.25,81.08L372.29,80.73L372.34,80.39L372.40,80.04L372.45,79.69L372.50,79.35L372.56,79.00L372.62,78.66L372.68,78.31L372.74,77.97L372.81,77.62L372.87,77.28L372.94,76.94L373.01,76.59L373.08,76.25L373.16,75.91L373.23,75.57L373.31,75.23L373.40,74.89L373.48,74.55L373.57,74.21L373.66,73.87L373.75,73.53L373.85,73.20L373.95,72.86L374.06,72.53L374.17,72.20L374.29,71.87L374.41,71.54L374.54,71.22L374.67,70.90L374.81,70.59L374.96,70.28L375.12,69.98L375.29,69.68L375.47,69.39L375.67,69.11L375.87,68.84L376.09,68.59L376.31,68.34L376.55,68.11L376.80,67.89L377.07,67.68L377.34,67.50L377.62,67.32L377.92,67.17L378.22,67.02L378.53,66.90L378.85,66.78L379.18,66.68L379.50,66.60L379.84,66.52L380.18,66.46L380.52,66.40L380.86,66.36L381.20,66.32L381.55,66.29L381.90,66.26L382.25,66.24L382.60,66.23L382.95,66.21L383.30,66.20L383.65,66.20L384.00,66.19L384.35,66.19L384.70,66.18L385.05,66.18L385.40,66.18L385.75,66.19L386.10,66.19L386.45,66.19L386.80,66.19L387.15,66.20L387.50,66.20L387.85,66.21L388.20,66.21L388.55,66.22L388.90,66.22L389.25,66.23L389.60,66.24L389.95,66.25L390.30,66.25L390.65,66.26L391.00,66.27L391.35,66.28L391.70,66.29L392.05,66.29L392.40,66.30L392.75,66.31L393.11,66.32L393.46,66.32L393.81,66.33L394.16,66.34L394.51,66.34L394.86,66.35L395.21,66.35L395.56,66.36L395.91,66.36L396.26,66.37L396.61,66.37L396.96,66.37L397.31,66.38L397.66,66.38L398.01,66.38L398.36,66.39L398.71,66.39L399.06,66.39L399.41,66.39L399.76,66.40L400.11,66.40L400.46,66.40L400.81,66.40L401.16,66.41L401.52,66.41L401.87,66.41L402.22,66.41L402.57,66.41L402.92,66.42L403.27,66.42L403.62,66.42L403.97,66.42L404.32,66.42L404.67,66.43L405.02,66.43L405.37,66.43L405.72,66.43L406.07,66.43L406.42,66.43L406.77,66.44L407.12,66.44L407.47,66.44L407.82,66.44L408.17,66.44L408.52,66.44L408.87,66.45L409.22,66.45L409.58,66.45L409.93,66.45L410.28,66.45L410.63,66.45L410.98,66.46L411.33,66.46L411.68,66.46L412.03,66.46L412.38,66.46L412.73,66.46L413.08,66.47L413.43,66.47L413.78,66.47L414.13,66.47L414.48,66.47L414.83,66.47L415.18,66.47L415.53,66.48L415.88,66.48L416.23,66.48L416.58,66.48L416.93,66.48L417.29,66.48L417.64,66.48L417.99,66.48L418.34,66.49L418.69,66.49L419.04,66.49L419.39,66.49L419.74,66.49L420.09,66.49L420.44,66.49L420.79,66.49L421.14,66.50L421.49,66.50L421.84,66.50L422.19,66.50L422.54,66.50L422.89,66.50L423.24,66.50L423.59,66.50L423.94,66.50L424.29,66.51L424.64,66.51L424.99,66.51L425.35,66.51L425.70,66.51L426.05,66.51L426.40,66.51L426.75,66.51L427.10,66.51L427.45,66.51L427.80,66.51L428.15,66.51L428.50,66.51L428.85,66.52L429.20,66.52L429.55,66.52L429.90,66.52L430.25,66.52L430.60,66.52L430.95,66.52L431.30,66.52L431.65,66.52L432.00,66.52L432.35,66.52L432.70,66.52L433.06,66.52L433.41,66.52L433.76,66.52L434.11,66.52L434.46,66.52L434.81,66.52L435.16,66.52L435.51,66.52L435.86,66.52L436.21,66.52L436.56,66.52L436.91,66.51L437.26,66.51L437.61,66.51L437.96,66.51L438.31,66.51L438.66,66.51L439.01,66.51L439.36,66.51L439.71,66.50L440.06,66.50L440.41,66.50L440.77,66.50L441.12,66.49L441.47,66.49L441.82,66.49L442.17,66.48L442.52,66.48L442.87,66.48L443.22,66.47L443.57,66.47L443.92,66.46L444.27,66.46L444.62,66.45L444.97,66.44L445.32,66.44L445.67,66.43L446.02,66.42L446.37,66.41L446.72,66.40L447.07,66.39L447.42,66.38L447.77,66.37L448.12,66.36L448.47,66.34L448.82,66.33L449.17,66.31L449.52,66.30L449.87,66.28L450.22,66.26L450.57,66.24L450.92,66.22L451.27,66.20L451.62,66.18L451.97,66.16L452.32,66.14L452.67,66.12L453.02,66.09L453.37,66.07L453.72,66.05L454.07,66.03L454.42,66.00L454.77,65.98L455.12,65.96L455.47,65.94L455.82,65.91L456.17,65.89L456.52,65.86L456.87,65.84L457.22,65.81L457.57,65.79L457.92,65.76L458.27,65.73L458.61,65.71L458.96,65.68L459.31,65.65L459.66,65.62L460.01,65.59L460.36,65.56L460.71,65.53L461.06,65.49L461.41,65.46L461.76,65.43L462.10,65.39L462.45,65.36L462.80,65.32L463.15,65.28L463.50,65.25L463.85,65.21L464.19,65.17L464.54,65.12L464.89,65.08L465.24,65.04L465.59,64.99L465.93,64.95L466.28,64.90L466.63,64.85L466.97,64.80L467.32,64.74L467.66,64.68L468.01,64.62L468.35,64.56L468.70,64.50" stroke="#a37608"/>
<path d="M328.90,191.50L328.92,191.15L328.94,190.80L328.96,190.45L328.99,190.10L329.01,189.75L329.03,189.40L329.05,189.05L329.07,188.70L329.09,188.36L329.11,188.01L329.14,187.66L329.16,187.31L329.18,186.96L329.20,186.61L329.22,186.26L329.24,185.91L329.26,185.56L329.29,185.21L329.31,184.86L329.33,184.51L329.35,184.16L329.37,183.81L329.39,183.46L329.41,183.11L329.43,182.77L329.46,182.42L329.48,182.07L329.50,181.72L329.52,181.37L329.54,181.02L329.56,180.67L329.59,180.32L329.61,179.97L329.63,179.62L329.65,179.27L329.67,178.92L329.70,178.57L329.72,178.22L329.74,177.87L329.77,177.53L329.79,177.18L329.81,176.83L329.84,176.48L329.86,176.13L329.88,175.78L329.91,175.43L329.93,175.08L329.96,174.73L329.98,174.38L330.01,174.03L330.04,173.68L330.06,173.34L330.09,172.99L330.12,172.64L330.16,172.29L330.19,171.94L330.22,171.59L330.26,171.25L330.30,170.90L330.35,170.55L330.40,170.21L330.45,169.87L330.51,169.52L330.58,169.18L330.65,168.85L330.74,168.52L330.83,168.19L330.94,167.87L331.05,167.56L331.19,167.25L331.33,166.96L331.50,166.67L331.68,166.40L331.87,166.14L332.08,165.89L332.31,165.66L332.55,165.44L332.81,165.23L333.08,165.04L333.36,164.85L333.65,164.67L333.94,164.50L334.24,164.34L334.55,164.18L334.86,164.02L335.17,163.87L335.48,163.71L335.79,163.56L336.10,163.40L336.41,163.24L336.73,163.08L337.03,162.92L337.34,162.75L337.65,162.59L337.95,162.42L338.26,162.25L338.56,162.08L338.87,161.91L339.18,161.74L339.48,161.57L339.79,161.40L340.10,161.24L340.40,161.07L340.71,160.91L341.02,160.75L341.34,160.59L341.65,160.43L341.96,160.28L342.27,160.12L342.58,159.96L342.89,159.80L343.20,159.64L343.51,159.47L343.82,159.30L344.12,159.13L344.42,158.96L344.72,158.78L345.02,158.60L345.31,158.41L345.60,158.21L345.89,158.02L346.17,157.81L346.45,157.61L346.73,157.39L347.00,157.17L347.26,156.95L347.52,156.72L347.78,156.48L348.03,156.24L348.27,156.00L348.51,155.75L348.75,155.49L348.97,155.23L349.20,154.96L349.42,154.69L349.63,154.42L349.84,154.14L350.04,153.86L350.24,153.57L350.44,153.28L350.63,152.99L350.82,152.70L351.01,152.40L351.20,152.11L351.38,151.81L351.56,151.51L351.73,151.20L351.91,150.90L352.08,150.60L352.25,150.29L352.42,149.98L352.58,149.68L352.74,149.37L352.90,149.06L353.06,148.74L353.21,148.43L353.36,148.11L353.51,147.80L353.66,147.48L353.80,147.16L353.94,146.84L354.07,146.52L354.21,146.19L354.34,145.87L354.47,145.55L354.60,145.22L354.73,144.89L354.85,144.57L354.97,144.24L355.10,143.91L355.22,143.58L355.34,143.26L355.47,142.93L355.59,142.60L355.71,142.27L355.83,141.95L355.96,141.62L356.08,141.29L356.20,140.96L356.33,140.63L356.45,140.31L356.57,139.98L356.69,139.65L356.82,139.32L356.94,138.99L357.06,138.67L357.18,138.34L357.29,138.01L357.41,137.68L357.53,137.35L357.64,137.02L357.75,136.69L357.86,136.35L357.97,136.02L358.08,135.69L358.18,135.35L358.29,135.02L358.39,134.68L358.49,134.35L358.58,134.01L358.68,133.68L358.77,133.34L358.85,133.00L358.94,132.66L359.02,132.32L359.10,131.98L359.18,131.64L359.26,131.30L359.33,130.96L359.41,130.61L359.48,130.27L359.54,129.93L359.61,129.58L359.68,129.24L359.74,128.90L359.80,128.55L359.86,128.21L359.92,127.86L359.97,127.52L360.03,127.17L360.08,126.83L360.14,126.48L360.19,126.13L360.24,125.79L360.29,125.44L360.34,125.09L360.38,124.75L360.43,124.40L360.48,124.05L360.52,123.71L360.57,123.36L360.61,123.01L360.66,122.67L360.70,122.32L360.75,121.97L360.79,121.62L360.84,121.28L360.88,120.93L360.93,120.58L360.97,120.23L361.02,119.89L361.06,119.54L361.11,119.19L361.16,118.85L361.20,118.50L361.25,118.15L361.29,117.81L361.34,117.46L361.39,117.11L361.43,116.76L361.48,116.42L361.53,116.07L361.57,115.72L361.62,115.38L361.66,115.03L361.71,114.68L361.75,114.34L361.80,113.99L361.84,113.64L361.89,113.29L361.93,112.95L361.98,112.60L362.02,112.25L362.06,111.90L362.11,111.56L362.15,111.21L362.19,110.86L362.23,110.51L362.27,110.17L362.31,109.82L362.35,109.47L362.39,109.12L362.43,108.78L362.47,108.43L362.50,108.08L362.54,107.73L362.58,107.38L362.61,107.04L362.65,106.69L362.68,106.34L362.72,105.99L362.75,105.64L362.79,105.29L362.82,104.95L362.86,104.60L362.89,104.25L362.92,103.90L362.96,103.55L362.99,103.20L363.02,102.86L363.06,102.51L363.09,102.16L363.13,101.81L363.16,101.46L363.19,101.11L363.23,100.76L363.26,100.42L363.30,100.07L363.33,99.72L363.37,99.37L363.40,99.02L363.43,98.67L363.47,98.33L363.50,97.98L363.54,97.63L363.57,97.28L363.61,96.93L363.65,96.59L363.68,96.24L363.72,95.89L363.75,95.54L363.79,95.19L363.82,94.84L363.86,94.50L363.89,94.15L363.93,93.80L363.96,93.45L363.99,93.10L364.03,92.75L364.06,92.41L364.10,92.06L364.13,91.71L364.17,91.36L364.20,91.01L364.23,90.66L364.27,90.31L364.30,89.97L364.33,89.62L364.36,89.27L364.39,88.92L364.43,88.57L364.46,88.22L364.49,87.87L364.52,87.53L364.55,87.18L364.58,86.83L364.61,86.48L364.64,86.13L364.67,85.78L364.70,85.43L364.73,85.09L364.76,84.74L364.79,84.39L364.82,84.04L364.86,83.69L364.89,83.34L364.92,82.99L364.95,82.64L364.98,82.30L365.02,81.95L365.05,81.60L365.08,81.25L365.11,80.90L365.15,80.55L365.18,80.21L365.22,79.86L365.25,79.51L365.29,79.16L365.32,78.81L365.36,78.46L365.39,78.12L365.43,77.77L365.47,77.42L365.51,77.07L365.55,76.72L365.58,76.38L365.63,76.03L365.67,75.68L365.71,75.33L365.75,74.99L365.80,74.64L365.85,74.29L365.90,73.95L365.95,73.60L366.00,73.25L366.05,72.91L366.11,72.56L366.17,72.22L366.23,71.87L366.29,71.53L366.36,71.19L366.42,70.84L366.49,70.50L366.56,70.16L366.64,69.81L366.71,69.47L366.78,69.13L366.86,68.79L366.94,68.45L367.02,68.11L367.10,67.77L367.18,67.43L367.26,67.09L367.35,66.75L367.43,66.41L367.52,66.07L367.61,65.73L367.71,65.40L367.80,65.06L367.90,64.73L368.01,64.39L368.12,64.06L368.24,63.74L368.36,63.41L368.49,63.09L368.63,62.77L368.77,62.46L368.93,62.15L369.09,61.85L369.26,61.55L369.45,61.26L369.64,60.98L369.84,60.71L370.05,60.45L370.28,60.19L370.51,59.95L370.76,59.72L371.02,59.51L371.28,59.31L371.56,59.12L371.85,58.94L372.14,58.79L372.44,58.64L372.76,58.51L373.07,58.40L373.40,58.30L373.73,58.21L374.06,58.13L374.40,58.07L374.74,58.01L375.08,57.96L375.42,57.92L375.77,57.89L376.11,57.86L376.46,57.83L376.81,57.81L377.16,57.80L377.51,57.78L377.86,57.77L378.21,57.76L378.56,57.75L378.91,57.74L379.26,57.73L379.61,57.72L379.96,57.71L380.31,57.71L380.66,57.70L381.01,57.69L381.36,57.69L381.71,57.68L382.06,57.67L382.41,57.66L382.76,57.65L383.11,57.65L383.46,57.64L383.81,57.63L384.16,57.61L384.51,57.60L384.86,57.59L385.21,57.57L385.56,57.56L385.91,57.54L386.25,57.53L386.60,57.51L386.95,57.49L387.30,57.48L387.65,57.46L388.00,57.44L388.35,57.42L388.70,57.40L389.05,57.38L389.40,57.35L389.75,57.33L390.10,57.31L390.45,57.29L390.80,57.27L391.15,57.25L391.50,57.23L391.85,57.21L392.20,57.19L392.55,57.17L392.89,57.15L393.24,57.14L393.59,57.12L393.94,57.10L394.29,57.09L394.64,57.07L394.99,57.06L395.34,57.05L395.69,57.03L396.04,57.02L396.39,57.01L396.74,57.00L397.09,56.99L397.44,56.98L397.79,56.97L398.14,56.96L398.49,56.95L398.84,56.93L399.19,56.92L399.54,56.91L399.89,56.90L400.24,56.89L400.59,56.88L400.94,56.87L401.29,56.86L401.64,56.85L401.99,56.84L402.34,56.83L402.69,56.82L403.04,56.81L403.39,56.79L403.74,56.78L404.09,56.77L404.44,56.76L404.79,56.75L405.14,56.74L405.49,56.72L405.84,56.71L406.19,56.70L406.54,56.68L406.89,56.66L407.24,56.65L407.59,56.63L407.94,56.61L408.28,56.58L408.63,56.56L408.98,56.53L409.33,56.50L409.68,56.46L410.02,56.42L410.37,56.38L410.72,56.33L411.06,56.28L411.41,56.23L411.75,56.17L412.09,56.11L412.44,56.04L412.78,55.98L413.12,55.91L413.47,55.85L413.81,55.78L414.15,55.72L414.50,55.65L414.84,55.59L415.18,55.53L415.53,55.46L415.87,55.40L416.22,55.34L416.56,55.28L416.91,55.22L417.25,55.16L417.59,55.10L417.94,55.03L418.28,54.97L418.62,54.90L418.96,54.83L419.31,54.76L419.65,54.68L419.99,54.59L420.32,54.51L420.66,54.41L421.00,54.31L421.33,54.21L421.67,54.10L422.00,54.00" stroke="#ff0000"/>
</g>
<rect x="180" y="6.5" width="70" height="59.5" fill="#fff"/>
<text class="s" x="217.8" y="13.00" font-size="7.2" text-anchor="end">Sim. 473K</text>
<line x1="223.0" y1="10.50" x2="245.2" y2="10.50" stroke="#000000" stroke-width="2.1"/>
<text class="s" x="217.8" y="20.47" font-size="7.2" text-anchor="end">Exp. 473K</text>
<circle cx="234.2" cy="17.97" r="2.4" fill="none" stroke="#000000" stroke-width="1"/>
<text class="s" x="217.8" y="27.94" font-size="7.2" text-anchor="end">Sim. 523K</text>
<line x1="223.0" y1="25.44" x2="245.2" y2="25.44" stroke="#0000ff" stroke-width="2.1"/>
<text class="s" x="217.8" y="35.41" font-size="7.2" text-anchor="end">Exp. 523K</text>
<circle cx="234.2" cy="32.91" r="2.4" fill="none" stroke="#0000ff" stroke-width="1"/>
<text class="s" x="217.8" y="42.88" font-size="7.2" text-anchor="end">Sim. 573K</text>
<line x1="223.0" y1="40.38" x2="245.2" y2="40.38" stroke="#a37608" stroke-width="2.1"/>
<text class="s" x="217.8" y="50.35" font-size="7.2" text-anchor="end">Exp. 573K</text>
<circle cx="234.2" cy="47.85" r="2.4" fill="none" stroke="#a37608" stroke-width="1"/>
<text class="s" x="217.8" y="57.82" font-size="7.2" text-anchor="end">Sim. 623K</text>
<line x1="223.0" y1="55.32" x2="245.2" y2="55.32" stroke="#ff0000" stroke-width="2.1"/>
<text class="s" x="217.8" y="65.29" font-size="7.2" text-anchor="end">Exp. 623K</text>
<circle cx="234.2" cy="62.79" r="2.4" fill="none" stroke="#ff0000" stroke-width="1"/>
<rect x="470" y="6.5" width="70" height="30" fill="#fff"/>
<text class="s" x="507.3" y="12.90" font-size="7.2" text-anchor="end">Sim. 473K</text>
<line x1="512.4" y1="11.00" x2="535" y2="11.00" stroke="#000000" stroke-width="2.1"/>
<text class="s" x="507.3" y="20.15" font-size="7.2" text-anchor="end">Sim. 523K</text>
<line x1="512.4" y1="18.25" x2="535" y2="18.25" stroke="#0000ff" stroke-width="2.1"/>
<text class="s" x="507.3" y="27.40" font-size="7.2" text-anchor="end">Sim. 573K</text>
<line x1="512.4" y1="25.50" x2="535" y2="25.50" stroke="#a37608" stroke-width="2.1"/>
<text class="s" x="507.3" y="34.65" font-size="7.2" text-anchor="end">Sim. 623K</text>
<line x1="512.4" y1="32.75" x2="535" y2="32.75" stroke="#ff0000" stroke-width="2.1"/>
<g fill="none" stroke="#333" stroke-width="1.05">
<rect x="39.50" y="3.50" width="217.50" height="222.00"/>
<rect x="328.60" y="3.70" width="217.40" height="221.70"/>
<path d="M68.50,225.50V222.50 M68.50,3.50V6.50 M97.50,225.50V222.50 M97.50,3.50V6.50 M126.50,225.50V222.50 M126.50,3.50V6.50 M155.50,225.50V222.50 M155.50,3.50V6.50 M184.50,225.50V222.50 M184.50,3.50V6.50 M213.50,225.50V222.50 M213.50,3.50V6.50 M242.50,225.50V222.50 M242.50,3.50V6.50 M39.50,185.14H42.50 M257.00,185.14H254.00 M39.50,144.77H42.50 M257.00,144.77H254.00 M39.50,104.41H42.50 M257.00,104.41H254.00 M39.50,64.05H42.50 M257.00,64.05H254.00 M39.50,23.68H42.50 M257.00,23.68H254.00"/>
<path d="M357.59,225.40V222.40 M357.59,3.70V6.70 M386.57,225.40V222.40 M386.57,3.70V6.70 M415.56,225.40V222.40 M415.56,3.70V6.70 M444.55,225.40V222.40 M444.55,3.70V6.70 M473.53,225.40V222.40 M473.53,3.70V6.70 M502.52,225.40V222.40 M502.52,3.70V6.70 M531.51,225.40V222.40 M531.51,3.70V6.70 M328.60,209.39H331.60 M546.00,209.39H543.00 M328.60,169.85H331.60 M546.00,169.85H543.00 M328.60,130.31H331.60 M546.00,130.31H543.00 M328.60,90.78H331.60 M546.00,90.78H543.00 M328.60,51.24H331.60 M546.00,51.24H543.00 M328.60,11.71H331.60 M546.00,11.71H543.00"/>
</g>
<text class="s" transform="translate(32.20,227.70) scale(1,1.080)" font-size="7.2" text-anchor="end">0</text>
<text class="s" transform="translate(31.80,188.14) scale(1,1.080)" font-size="7.2" text-anchor="end">0.2</text>
<text class="s" transform="translate(31.80,147.77) scale(1,1.080)" font-size="7.2" text-anchor="end">0.4</text>
<text class="s" transform="translate(31.80,107.41) scale(1,1.080)" font-size="7.2" text-anchor="end">0.6</text>
<text class="s" transform="translate(31.80,67.05) scale(1,1.080)" font-size="7.2" text-anchor="end">0.8</text>
<text class="s" transform="translate(31.80,26.68) scale(1,1.080)" font-size="7.2" text-anchor="end">1</text>
<text class="s" transform="translate(40.30,239.90) scale(1,1.080)" font-size="7.2" text-anchor="middle">0</text>
<text class="s" transform="translate(69.30,239.90) scale(1,1.080)" font-size="7.2" text-anchor="middle">20</text>
<text class="s" transform="translate(98.30,239.90) scale(1,1.080)" font-size="7.2" text-anchor="middle">40</text>
<text class="s" transform="translate(127.30,239.90) scale(1,1.080)" font-size="7.2" text-anchor="middle">60</text>
<text class="s" transform="translate(156.30,239.90) scale(1,1.080)" font-size="7.2" text-anchor="middle">80</text>
<text class="s" transform="translate(185.30,239.90) scale(1,1.080)" font-size="7.2" text-anchor="middle">100</text>
<text class="s" transform="translate(214.30,239.90) scale(1,1.080)" font-size="7.2" text-anchor="middle">120</text>
<text class="s" transform="translate(243.30,239.90) scale(1,1.080)" font-size="7.2" text-anchor="middle">140</text>
<text class="s" transform="translate(321.40,212.24) scale(1,1.080)" font-size="7.2" text-anchor="end">300</text>
<text class="s" transform="translate(321.40,172.70) scale(1,1.080)" font-size="7.2" text-anchor="end">350</text>
<text class="s" transform="translate(321.40,133.16) scale(1,1.080)" font-size="7.2" text-anchor="end">400</text>
<text class="s" transform="translate(321.40,93.63) scale(1,1.080)" font-size="7.2" text-anchor="end">450</text>
<text class="s" transform="translate(321.40,54.09) scale(1,1.080)" font-size="7.2" text-anchor="end">500</text>
<text class="s" transform="translate(321.40,14.56) scale(1,1.080)" font-size="7.2" text-anchor="end">550</text>
<text class="s" transform="translate(329.40,239.90) scale(1,1.080)" font-size="7.2" text-anchor="middle">0</text>
<text class="s" transform="translate(358.39,239.90) scale(1,1.080)" font-size="7.2" text-anchor="middle">20</text>
<text class="s" transform="translate(387.37,239.90) scale(1,1.080)" font-size="7.2" text-anchor="middle">40</text>
<text class="s" transform="translate(416.36,239.90) scale(1,1.080)" font-size="7.2" text-anchor="middle">60</text>
<text class="s" transform="translate(445.35,239.90) scale(1,1.080)" font-size="7.2" text-anchor="middle">80</text>
<text class="s" transform="translate(474.33,239.90) scale(1,1.080)" font-size="7.2" text-anchor="middle">100</text>
<text class="s" transform="translate(503.32,239.90) scale(1,1.080)" font-size="7.2" text-anchor="middle">120</text>
<text class="s" transform="translate(532.31,239.90) scale(1,1.080)" font-size="7.2" text-anchor="middle">140</text>
<text class="m" transform="translate(15.40,113.80) rotate(-90)" font-size="10.2" text-anchor="middle">d<tspan font-size="7.6" dy="-5.6">2</tspan><tspan dy="5.6">/d</tspan><tspan font-size="7.6" dy="2.6">0</tspan><tspan font-size="7.6" dy="-8.2">2</tspan><tspan dy="5.6"> [-]</tspan></text>
<text class="m" transform="translate(305.60,116.30) rotate(-90) scale(1,1.100)" font-size="9.6" text-anchor="middle">Drop surface temperature [K]</text>
<text class="m" transform="translate(148.20,258.80)" font-size="10.3" text-anchor="middle">t/d<tspan font-size="7.5" dy="3.3">0</tspan><tspan font-size="7.5" dy="-8.3">2</tspan><tspan dy="5"> [s mm</tspan><tspan font-size="7.5" dy="-4.8">-2</tspan><tspan dy="4.8">]</tspan></text>
<text class="m" transform="translate(437.30,258.80)" font-size="10.3" text-anchor="middle">t/d<tspan font-size="7.5" dy="3.3">0</tspan><tspan font-size="7.5" dy="-8.3">2</tspan><tspan dy="5"> [s mm</tspan><tspan font-size="7.5" dy="-4.8">-2</tspan><tspan dy="4.8">]</tspan></text>
<text class="m" transform="translate(135.70,280.20)" font-size="13" text-anchor="middle"><tspan font-weight="normal">(</tspan>a<tspan font-weight="normal">)</tspan></text>
<text class="m" transform="translate(424.50,280.20)" font-size="13" text-anchor="middle"><tspan font-weight="normal">(</tspan>b<tspan font-weight="normal">)</tspan></text>
</svg></body></html>
